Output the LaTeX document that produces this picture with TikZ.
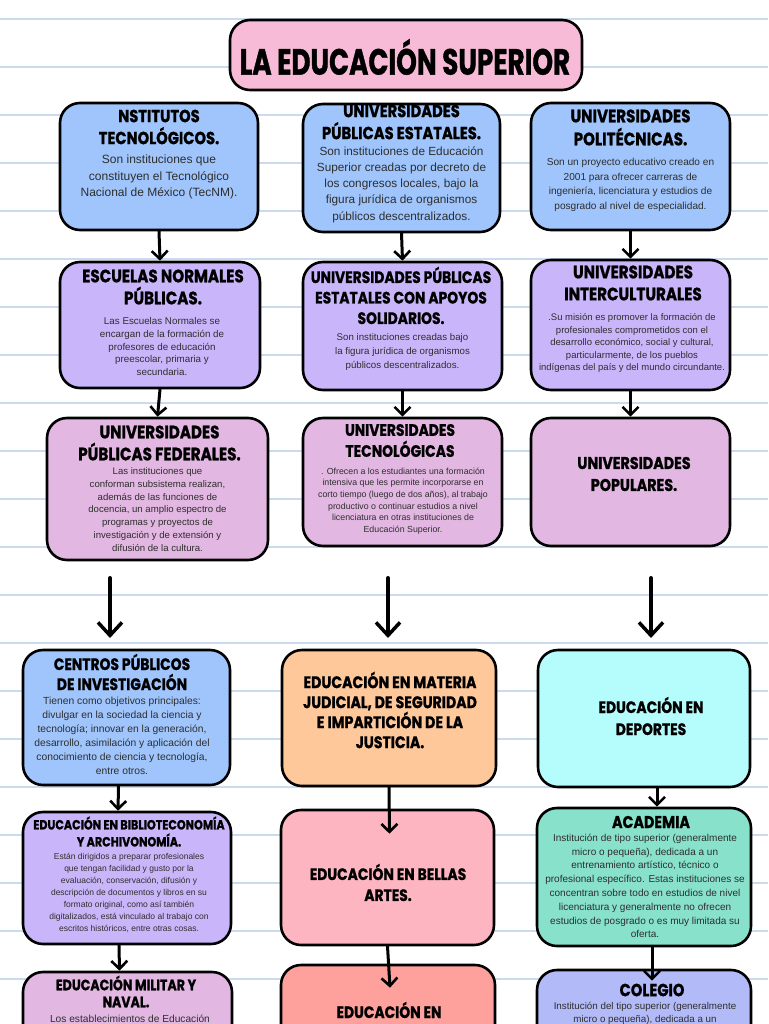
\documentclass[tikz,border=0pt]{standalone}
\usepackage{fontspec}
\setmainfont{Liberation Sans}
\newfontfamily\hfont{Poppins}[FakeStretch=0.84,FakeBold=1]
\newfontfamily\tfont{Poppins}[FakeStretch=0.72,FakeBold=1]
\usetikzlibrary{arrows.meta,calc}
\definecolor{cblue}{HTML}{9FC5FC}
\definecolor{cpurple}{HTML}{C9B5F9}
\definecolor{clilac}{HTML}{E2B7E2}
\definecolor{cpeach}{HTML}{FFC89B}
\definecolor{ccyan}{HTML}{B5FCFC}
\definecolor{cpink}{HTML}{FDB5C2}
\definecolor{cteal}{HTML}{88E1CB}
\definecolor{csalmon}{HTML}{FEA19C}
\definecolor{cperi}{HTML}{B2BAF8}
\definecolor{ctitle}{HTML}{F8BBD7}
\definecolor{paper}{HTML}{CCDAF0}
\definecolor{txt}{HTML}{2E2E2E}
\tikzset{
  box/.style={draw=black, line width=2.6pt, rounded corners=20pt, fill=#1, inner sep=0pt},
  hd/.style 2 args={font=\hfont\bfseries\fontsize{#1}{#2}\selectfont, align=center, text=black, inner sep=0pt},
  bd/.style 2 args={font=\fontsize{#1}{#2}\selectfont, align=center, text=txt, inner sep=0pt},
  ttl/.style={font=\tfont\bfseries\fontsize{36.5}{40}\selectfont, text=black, inner sep=0pt},
  paperline/.style={draw=paper, line width=1.4pt},
  arr/.style={line width=3pt, line cap=round, -{Straight Barb[length=8pt,width=16pt,line width=2.6pt]}},
  bigarr/.style={line width=4pt, line cap=round, -{Straight Barb[length=13pt,width=24pt,line width=3.5pt]}},
}
\begin{document}
\begin{tikzpicture}[x=1pt,y=-1pt]
\clip (0,0) rectangle (768,1024);
\fill[white] (0,0) rectangle (768,1024);
\foreach \k in {0,...,21} \draw[paperline] (0,19+48*\k) -- (768,19+48*\k);

% title
\node[box=ctitle, minimum width=352pt, minimum height=70pt] (title) at (406,55) {};
\node[ttl] (titletext) at (405,57) {LA EDUCACIÓN SUPERIOR};

% row 1
\node[box=cblue, minimum width=198pt, minimum height=127pt] (a1) at (159,166.5) {};
\node[hd={17.5}{22}] (a1h) at (159,127) {NSTITUTOS\\TECNOLÓGICOS.};
\node[bd={12}{16.5}] (a1b) at (159,177) {Son instituciones que\\constituyen el Tecnológico\\Nacional de México (TecNM).};

\node[box=cblue, minimum width=197pt, minimum height=128pt] (a2) at (401.5,168) {};
\node[hd={17.5}{22}] (a2h) at (401.5,122) {UNIVERSIDADES\\PÚBLICAS ESTATALES.};
\node[bd={11.8}{16.2}] (a2b) at (401.5,184.5) {Son instituciones de Educación\\Superior creadas por decreto de\\los congresos locales, bajo la\\figura jurídica de organismos\\públicos descentralizados.};

\node[box=cblue, minimum width=199pt, minimum height=127pt] (a3) at (630.5,166.5) {};
\node[hd={18}{23}] (a3h) at (630.5,127.5) {UNIVERSIDADES\\POLITÉCNICAS.};
\node[bd={10.1}{14.7}] (a3b) at (630.5,185) {Son un proyecto educativo creado en\\2001 para ofrecer carreras de\\ingeniería, licenciatura y estudios de\\posgrado al nivel de especialidad.};

% row 2
\node[box=cpurple, minimum width=200pt, minimum height=126pt] (b1) at (160,325) {};
\node[hd={18}{22}] (b1h) at (163,287) {ESCUELAS NORMALES\\PÚBLICAS.};
\node[bd={9.8}{12.8}] (b1b) at (162,346.5) {Las Escuelas Normales se\\encargan de la formación de\\profesores de educación\\preescolar, primaria y\\secundaria.};

\node[box=cpurple, minimum width=199pt, minimum height=128pt] (b2) at (402.5,326) {};
\node[hd={16.5}{20.5}] (b2h) at (401,295.5) {UNIVERSIDADES PÚBLICAS\\ESTATALES CON APOYOS\\SOLIDARIOS.};
\node[bd={9.7}{14}] (b2b) at (402.5,352) {Son instituciones creadas bajo\\la figura jurídica de organismos\\públicos descentralizados.};

\node[box=cpurple, minimum width=199pt, minimum height=130pt] (b3) at (630.5,325) {};
\node[hd={18}{22}] (b3h) at (633,283) {UNIVERSIDADES\\INTERCULTURALES};
\node[bd={9.5}{12.5}] (b3b) at (632,343) {.Su misión es promover la formación de\\profesionales comprometidos con el\\desarrollo económico, social y cultural,\\particularmente, de los pueblos\\indígenas del país y del mundo circundante.};

% row 3
\node[box=clilac, minimum width=221pt, minimum height=142pt] (c1) at (157.5,489) {};
\node[hd={18}{22}] (c1h) at (159.5,443) {UNIVERSIDADES\\PÚBLICAS FEDERALES.};
\node[bd={9.6}{12.8}] (c1b) at (157.5,509.5) {Las instituciones que\\conforman subsistema realizan,\\además de las funciones de\\docencia, un amplio espectro de\\programas y proyectos de\\investigación y de extensión y\\difusión de la cultura.};

\node[box=clilac, minimum width=199pt, minimum height=128pt] (c2) at (402.5,482) {};
\node[hd={16.5}{21}] (c2h) at (400,440.5) {UNIVERSIDADES\\TECNOLÓGICAS};
\node[bd={8.8}{11.7}] (c2b) at (403,501) {. Ofrecen a los estudiantes una formación\\intensiva que les permite incorporarse en\\corto tiempo (luego de dos años), al trabajo\\productivo o continuar estudios a nivel\\licenciatura en otras instituciones de\\Educación Superior.};

\node[box=clilac, minimum width=199pt, minimum height=128pt] (c3) at (630.5,482) {};
\node[hd={17}{22}] (c3h) at (634,474) {UNIVERSIDADES\\POPULARES.};

% arrows rows 1-3
\draw[arr] (a1.south) -- (b1.north);
\draw[arr] (a2.south) -- (b2.north);
\draw[arr] (a3.south) -- (b3.north);
\draw[arr] (b1.south) -- (c1.north);
\draw[arr] (b2.south) -- (c2.north);
\draw[arr] (b3.south) -- (c3.north);

% big free arrows
\coordinate (g1s) at (110,578); \coordinate (g1e) at (110,638);
\coordinate (g2s) at (388,578); \coordinate (g2e) at (388,638);
\coordinate (g3s) at (651,578); \coordinate (g3e) at (651,638);
\draw[bigarr] (g1s) -- (g1e);
\draw[bigarr] (g2s) -- (g2e);
\draw[bigarr] (g3s) -- (g3e);

% row 4
\node[box=cblue, minimum width=207pt, minimum height=135pt] (d1) at (126.5,717.5) {};
\node[hd={16.5}{20}] (d1h) at (122,672) {CENTROS PÚBLICOS\\DE INVESTIGACIÓN};
\node[bd={10.3}{14}] (d1b) at (122,736) {Tienen como objetivos principales:\\divulgar en la sociedad la ciencia y\\tecnología; innovar en la generación,\\desarrollo, asimilación y aplicación del\\conocimiento de ciencia y tecnología,\\entre otros.};

\node[box=cpeach, minimum width=214pt, minimum height=136pt] (d2) at (389,718) {};
\node[hd={16.8}{20}] (d2h) at (390,710) {EDUCACIÓN EN MATERIA\\JUDICIAL, DE SEGURIDAD\\E IMPARTICIÓN DE LA\\JUSTICIA.};

\node[box=ccyan, minimum width=212pt, minimum height=137pt] (d3) at (644,718.5) {};
\node[hd={16.5}{22}] (d3h) at (651,716) {EDUCACIÓN EN\\DEPORTES};

% row 5
\node[box=cpurple, minimum width=208pt, minimum height=132pt] (e1) at (127,878) {};
\node[hd={13.3}{17}] (e1h) at (129,831.5) {EDUCACIÓN EN BIBLIOTECONOMÍA\\Y ARCHIVONOMÍA.};
\node[bd={8.5}{12}] (e1b) at (129,892.5) {Están dirigidos a preparar profesionales\\que tengan facilidad y gusto por la\\evaluación, conservación, difusión y\\descripción de documentos y libros en su\\formato original, como así también\\digitalizados, está vinculado al trabajo con\\escritos históricos, entre otras cosas.};

\node[box=cpink, minimum width=213pt, minimum height=135pt] (e2) at (387.5,877.5) {};
\node[hd={16.5}{21}] (e2h) at (388,882.5) {EDUCACIÓN EN BELLAS\\ARTES.};

\node[box=cteal, minimum width=214pt, minimum height=138pt] (e3) at (644,877) {};
\node[hd={17}{20}] (e3h) at (651,822) {ACADEMIA};
\node[bd={10}{13.8}] (e3b) at (645,886) {Institución de tipo superior (generalmente\\micro o pequeña), dedicada a un\\entrenamiento artístico, técnico o\\profesional específico. Estas instituciones se\\concentran sobre todo en estudios de nivel\\licenciatura y generalmente no ofrecen\\estudios de posgrado o es muy limitada su\\oferta.};

% row 4-5 arrows
\draw[arr] ($(d1.south)+(-8,0)$) -- ($(e1.north)+(-9,0)$);
\draw[arr] (d2.south) -- ($(e2.north)+(2,25)$);
\draw[arr] ($(d3.south)+(13,0)$) -- ($(e3.north)+(13,0)$);

% row 6 (running off the page edge, as in the reference)
\node[box=clilac, minimum width=209pt, minimum height=130pt] (f1) at (127.5,1037) {};
\node[hd={15}{17}] (f1h) at (126,991.5) {EDUCACIÓN MILITAR Y\\NAVAL.};
\node[bd={10.2}{14}] (f1b) at (130,1019) {Los establecimientos de Educación};

\node[box=csalmon, minimum width=214pt, minimum height=140pt] (f2) at (388,1035) {};
\node[hd={16.5}{20}] (f2h) at (389,1010) {EDUCACIÓN EN};

\node[box=cperi, minimum width=214pt, minimum height=130pt] (f3) at (644,1035) {};
\node[hd={17.5}{20}] (f3h) at (652,990) {COLEGIO};
\node[bd={9.8}{13}] (f3b) at (645,1013) {Institución del tipo superior (generalmente\\micro o pequeña), dedicada a un};

\draw[arr] ($(e1.south)+(-8,0)$) -- ($(f1.north)+(-8,0)$);
\draw[arr] (e2.south) -- ($(f2.north)+(2,24)$);
\draw[arr] ($(e3.south)+(8,0)$) -- ($(f3.north)+(8,12)$);
\end{tikzpicture}
\end{document}
